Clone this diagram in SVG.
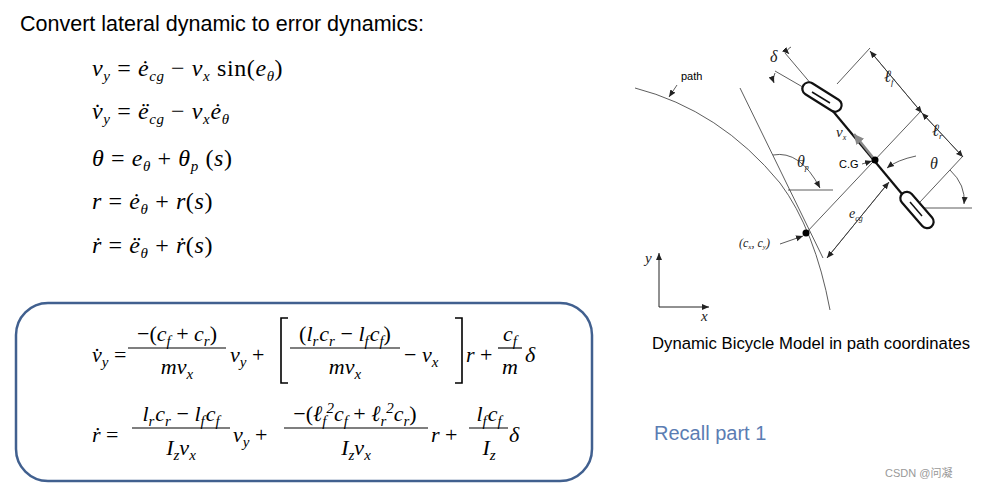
<svg xmlns="http://www.w3.org/2000/svg" width="995" height="489" viewBox="0 0 995 489">
<style>
.m{font-family:"Liberation Serif",serif;font-style:italic;font-size:22px;fill:#000}
.e{font-size:24px;letter-spacing:0.6px}
.n{font-style:normal}
.s{font-size:15px}
.t{font-family:"Liberation Sans",sans-serif;fill:#000}
.thin{stroke:#333;stroke-width:0.8;fill:none}
.bar{stroke:#000;stroke-width:1.2}
.lab{font-family:"Liberation Serif",serif;font-style:italic;fill:#222}
</style>
<defs>
<marker id="ah" markerWidth="8" markerHeight="8" refX="7" refY="4" orient="auto" markerUnits="userSpaceOnUse"><path d="M0,1 L7,4 L0,7 z" fill="#222"/></marker>
<marker id="ag" markerWidth="12" markerHeight="12" refX="10" refY="6" orient="auto" markerUnits="userSpaceOnUse"><path d="M0,1 L10,6 L0,11 z" fill="#888"/></marker>
</defs>
<rect width="995" height="489" fill="#fff"/>
<text class="t" x="20" y="31" font-size="21.5">Convert lateral dynamic to error dynamics:</text>
<g id="eqs">
<text class="m e" x="92" y="76">v<tspan class="s" dy="5">y</tspan><tspan dy="-5" class="n"> = </tspan>ė<tspan class="s" dy="5">cg</tspan><tspan dy="-5" class="n"> − </tspan>v<tspan class="s" dy="5">x</tspan><tspan dy="-5" class="n"> sin(</tspan>e<tspan class="s" dy="5">θ</tspan><tspan dy="-5" class="n">)</tspan></text>
<text class="m e" x="92" y="119">v̇<tspan class="s" dy="5">y</tspan><tspan dy="-5" class="n"> = </tspan>ë<tspan class="s" dy="5">cg</tspan><tspan dy="-5" class="n"> − </tspan>v<tspan class="s" dy="5">x</tspan><tspan dy="-5">ė</tspan><tspan class="s" dy="5">θ</tspan></text>
<text class="m e" x="92" y="166">θ<tspan class="n"> = </tspan>e<tspan class="s" dy="5">θ</tspan><tspan dy="-5" class="n">  + </tspan>θ<tspan class="s" dy="5">p</tspan><tspan dy="-5" class="n"> (</tspan>s<tspan class="n">)</tspan></text>
<text class="m e" x="92" y="209">r<tspan class="n"> = </tspan>ė<tspan class="s" dy="5">θ</tspan><tspan dy="-5" class="n"> + </tspan>r<tspan class="n">(</tspan>s<tspan class="n">)</tspan></text>
<text class="m e" x="92" y="253">ṙ<tspan class="n"> = </tspan>ë<tspan class="s" dy="5">θ</tspan><tspan dy="-5" class="n"> + </tspan>ṙ<tspan class="n">(</tspan>s<tspan class="n">)</tspan></text>
</g>
<g id="box">
<rect x="16" y="303" width="576" height="178" rx="32" fill="none" stroke="#41608f" stroke-width="2.5"/>
<text class="m" x="92" y="362">v̇<tspan class="s" dy="5">y</tspan><tspan dy="-5" class="n"> =</tspan></text>
<text class="m" x="177" y="341" text-anchor="middle"><tspan class="n">−(</tspan>c<tspan class="s" dy="5">f</tspan><tspan dy="-5" class="n"> + </tspan>c<tspan class="s" dy="5">r</tspan><tspan dy="-5" class="n">)</tspan></text>
<line class="bar" x1="128" y1="348" x2="226" y2="348"/>
<text class="m" x="177" y="374" text-anchor="middle">mv<tspan class="s" dy="5">x</tspan></text>
<text class="m" x="230" y="362">v<tspan class="s" dy="5">y</tspan><tspan dy="-5" class="n"> +</tspan></text>
<path d="M288,318 h-7 v65 h7 M455,318 h7 v65 h-7" stroke="#000" stroke-width="1.6" fill="none"/>
<text class="m" x="345" y="341" text-anchor="middle"><tspan class="n">(</tspan>l<tspan class="s" dy="5">r</tspan><tspan dy="-5" dx="1">c</tspan><tspan class="s" dy="5">r</tspan><tspan dy="-5" class="n"> − </tspan>l<tspan class="s" dy="5">f</tspan><tspan dy="-5" dx="1">c</tspan><tspan class="s" dy="5">f</tspan><tspan dy="-5" class="n">)</tspan></text>
<line class="bar" x1="290" y1="348" x2="400" y2="348"/>
<text class="m" x="345" y="374" text-anchor="middle">mv<tspan class="s" dy="5">x</tspan></text>
<text class="m" x="404" y="362"><tspan class="n">− </tspan>v<tspan class="s" dy="5">x</tspan></text>
<text class="m" x="466" y="362">r<tspan class="n"> +</tspan></text>
<text class="m" x="510" y="341" text-anchor="middle">c<tspan class="s" dy="5">f</tspan></text>
<line class="bar" x1="498" y1="348" x2="522" y2="348"/>
<text class="m" x="510" y="374" text-anchor="middle">m</text>
<text class="m" x="525" y="362">δ</text>
<text class="m" x="92" y="442">ṙ<tspan class="n"> =</tspan></text>
<text class="m" x="181" y="421" text-anchor="middle">l<tspan class="s" dy="5">r</tspan><tspan dy="-5" dx="1">c</tspan><tspan class="s" dy="5">r</tspan><tspan dy="-5" class="n"> − </tspan>l<tspan class="s" dy="5">f</tspan><tspan dy="-5" dx="1">c</tspan><tspan class="s" dy="5">f</tspan></text>
<line class="bar" x1="132" y1="428" x2="230" y2="428"/>
<text class="m" x="181" y="455" text-anchor="middle">I<tspan class="s" dy="5">z</tspan><tspan dy="-5">v</tspan><tspan class="s" dy="5">x</tspan></text>
<text class="m" x="233" y="442">v<tspan class="s" dy="5">y</tspan><tspan dy="-5" class="n"> +</tspan></text>
<text class="m" x="355" y="421" text-anchor="middle"><tspan class="n">−(</tspan>ℓ<tspan class="s" dy="5">f</tspan><tspan class="s" dy="-13">2</tspan><tspan dy="8">c</tspan><tspan class="s" dy="5">f</tspan><tspan dy="-5" class="n"> + </tspan>ℓ<tspan class="s" dy="5">r</tspan><tspan class="s" dy="-13">2</tspan><tspan dy="8">c</tspan><tspan class="s" dy="5">r</tspan><tspan dy="-5" class="n">)</tspan></text>
<line class="bar" x1="284" y1="428" x2="428" y2="428"/>
<text class="m" x="356" y="455" text-anchor="middle">I<tspan class="s" dy="5">z</tspan><tspan dy="-5">v</tspan><tspan class="s" dy="5">x</tspan></text>
<text class="m" x="431" y="442">r<tspan class="n"> +</tspan></text>
<text class="m" x="489" y="421" text-anchor="middle">l<tspan class="s" dy="5">f</tspan><tspan dy="-5" dx="1">c</tspan><tspan class="s" dy="5">f</tspan></text>
<line class="bar" x1="469" y1="428" x2="508" y2="428"/>
<text class="m" x="489" y="455" text-anchor="middle">I<tspan class="s" dy="5">z</tspan></text>
<text class="m" x="509" y="442">δ</text>
</g>
<g id="bicycle">
<path class="thin" d="M635,88 Q720,110 780,183 Q815,230 830,310"/>
<text class="t" x="681" y="80" font-size="11" fill="#222">path</text>
<line class="thin" x1="677" y1="85" x2="669" y2="97" marker-end="url(#ah)"/>
<line class="thin" x1="740" y1="88" x2="823" y2="258"/>
<line class="thin" x1="806" y1="233" x2="921" y2="111"/>
<line class="thin" x1="837" y1="84" x2="870" y2="48"/>
<line class="thin" x1="920" y1="202" x2="963" y2="156"/>
<line class="thin" x1="870" y1="51" x2="922" y2="113" marker-end="url(#ah)"/>
<line class="thin" x1="922" y1="113" x2="870" y2="51" marker-end="url(#ah)"/>
<line class="thin" x1="922" y1="113" x2="963" y2="157" marker-end="url(#ah)"/>
<line class="thin" x1="963" y1="157" x2="922" y2="113" marker-end="url(#ah)"/>
<line class="thin" x1="827" y1="258" x2="889" y2="182" marker-end="url(#ah)"/>
<line class="thin" x1="889" y1="182" x2="827" y2="258" marker-end="url(#ah)"/>
<line class="thin" x1="788" y1="190" x2="833" y2="190"/>
<path class="thin" d="M773,155 Q800,150 820,188" marker-end="url(#ah)"/>
<line class="thin" x1="920" y1="208" x2="972" y2="208"/>
<path class="thin" d="M950,170 Q966,185 964,204" marker-end="url(#ah)"/>
<path class="thin" d="M916,156 Q897,160 887,168" marker-end="url(#ah)"/>
<line class="thin" x1="775" y1="71" x2="820" y2="97"/>
<line class="thin" x1="785" y1="53" x2="823" y2="98"/>
<path class="thin" d="M791,47 Q785,50 789,54" marker-end="url(#ah)"/>
<path class="thin" d="M775,73 Q772,78 774,83" marker-end="url(#ah)"/>
<line x1="822" y1="98" x2="917" y2="212" stroke="#111" stroke-width="2.2"/>
<line x1="875" y1="160" x2="854" y2="134" stroke="#888" stroke-width="2.5" marker-end="url(#ag)"/>
<rect x="-22" y="-6.5" width="44" height="13" rx="6.5" transform="translate(822,97) rotate(32)" fill="#fff" stroke="#111" stroke-width="2.2"/>
<line x1="812" y1="92" x2="830" y2="103" stroke="#111" stroke-width="1.5"/>
<rect x="-22" y="-6.5" width="44" height="13" rx="6.5" transform="translate(917,210) rotate(49)" fill="#fff" stroke="#111" stroke-width="2.2"/>
<line x1="910" y1="202" x2="922" y2="216" stroke="#111" stroke-width="1.5"/>
<circle cx="875" cy="160" r="3.5" fill="#000"/>
<circle cx="806" cy="233" r="3.5" fill="#000"/>
<line class="thin" x1="862" y1="164" x2="872" y2="161" marker-end="url(#ah)"/>
<line class="thin" x1="780" y1="244" x2="803" y2="236" marker-end="url(#ah)"/>
<text class="t" x="839" y="168" font-size="11" fill="#222">C.G</text>
<text class="lab" x="770" y="62" font-size="16">δ</text>
<text class="lab" x="884" y="82" font-size="17">ℓ<tspan font-size="9" dy="3">f</tspan></text>
<text class="lab" x="932" y="136" font-size="17">ℓ<tspan font-size="9" dy="3">r</tspan></text>
<text class="lab" x="836" y="137" font-size="15">v<tspan font-size="8" dy="3">x</tspan></text>
<text class="lab" x="797" y="167" font-size="16">θ<tspan font-size="8" dy="3">p</tspan></text>
<text class="lab" x="930" y="169" font-size="16">θ</text>
<text class="lab" x="849" y="218" font-size="14">e<tspan font-size="8" dy="3">cg</tspan></text>
<text class="lab" x="739" y="247" font-size="12">(c<tspan font-size="7" dy="2">x</tspan><tspan dy="-2">, c</tspan><tspan font-size="7" dy="2">y</tspan><tspan dy="-2">)</tspan></text>
<line x1="659" y1="307" x2="659" y2="253" stroke="#222" stroke-width="1" marker-end="url(#ah)"/>
<line x1="659" y1="307" x2="709" y2="307" stroke="#222" stroke-width="1" marker-end="url(#ah)"/>
<text class="lab" x="645" y="263" font-size="15">y</text>
<text class="lab" x="701" y="321" font-size="15">x</text>
</g>
<text class="t" x="652" y="349" font-size="16.7">Dynamic Bicycle Model in path coordinates</text>
<text class="t" x="654" y="440" font-size="20" fill="#5b7db3" style="fill:#5b7db3">Recall part 1</text>
<text x="885" y="477" font-family="'Liberation Sans','Noto Sans CJK SC',sans-serif" font-size="11" fill="#999">CSDN @问凝</text>
</svg>
